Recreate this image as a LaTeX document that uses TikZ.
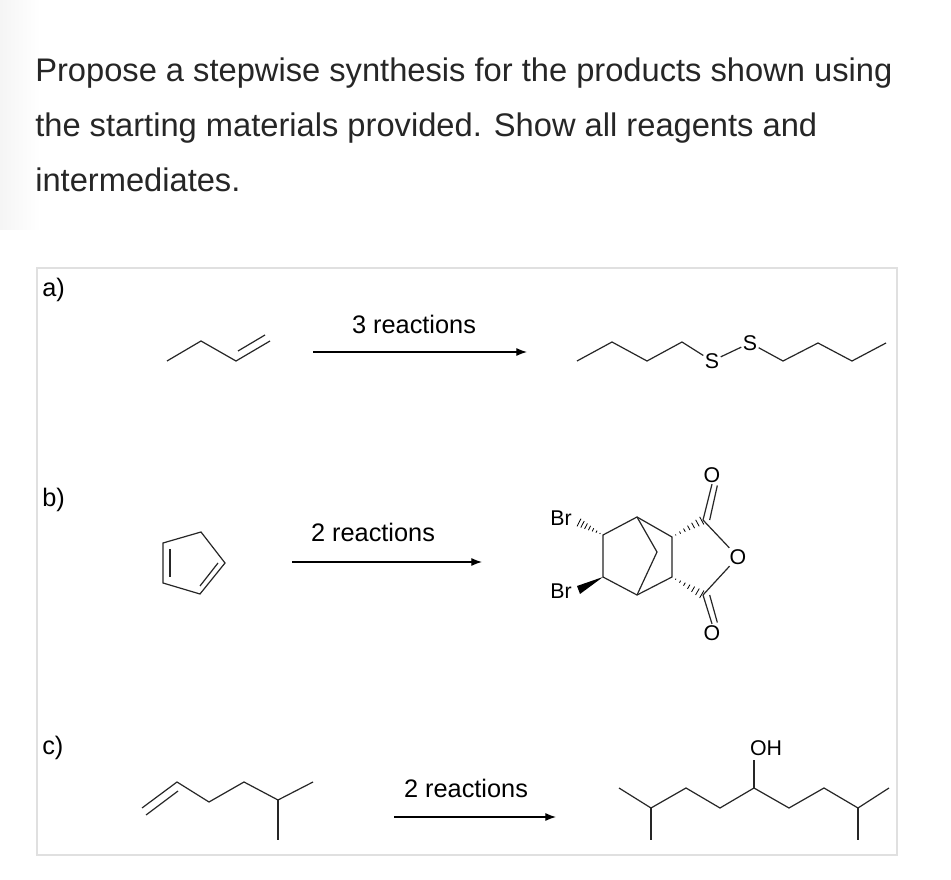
\documentclass[tikz,border=0pt]{standalone}
\usepackage{fontspec}
\setmainfont{Liberation Sans}
\usetikzlibrary{arrows.meta,calc}
\begin{document}
\begin{tikzpicture}[x=0.75pt,y=-0.75pt,
  bond/.style={line width=0.9pt,black!85},
  atom/.style={font=\fontsize{16}{18}\selectfont,inner sep=1pt},
  rlab/.style={font=\fontsize{19}{22}\selectfont,inner sep=0pt},
  rarrow/.style={line width=0.9pt,-{Latex[length=8pt,width=6pt]}},
  qtext/.style={font=\fontsize{24.5}{28}\selectfont,anchor=base west,inner sep=0pt,text=black!85}]
\useasboundingbox (0,0) rectangle (951,880);
\fill[white] (0,0) rectangle (951,880);
\shade[left color=black!4,right color=white] (0,0) rectangle (40,230);
\node[qtext] (q1) at (35,82) {Propose a stepwise synthesis for the products shown using};
\node[qtext] (q2) at (35,137) {the starting materials provided. Show all reagents and};
\node[qtext] (q3) at (35,192) {intermediates.};
\draw[black!12,line width=0.8pt] (37,268) rectangle (897,855);
\node[rlab,anchor=west] (la) at (42,290) {a)};
\node[rlab,anchor=west] (lb) at (42,500) {b)};
\node[rlab,anchor=west] (lc) at (42,748) {c)};
% a start
\draw[bond] (167,361)--(201,341)--(236,361)--(270,341);
\draw[bond] (238,351)--(265,335);
% a arrow
\coordinate (a1) at (313,352); \coordinate (a2) at (527,352);
\draw[rarrow] (a1)--(a2);
\node[rlab] (ta) at (414,324) {3 reactions};
% a product
\node[atom] (S1) at (712,361) {S};
\node[atom] (S2) at (750,343) {S};
\draw[bond] (577,361)--(612,342)--(647,361)--(682,342)--(S1);
\draw[bond] (S1)--(S2);
\draw[bond] (S2)--(783,361)--(818,343)--(852,361)--(886,343);
% b start
\draw[bond] (163,543)--(201,532)--(225,563)--(200,594)--(163,583)--cycle;
\draw[bond] (170,549)--(170,577);
\draw[bond] (200,586)--(218,563);
% b arrow
\coordinate (b1) at (292,562); \coordinate (b2) at (482,562);
\draw[rarrow] (b1)--(b2);
\node[rlab] (tb) at (373,532) {2 reactions};
% b product
\coordinate (C1) at (603,535); \coordinate (C2) at (603,577);
\coordinate (C3) at (637,517); \coordinate (C4) at (637,595);
\coordinate (C5) at (672,537); \coordinate (C6) at (672,577);
\coordinate (C9) at (657,552);
\coordinate (C7) at (703,520); \coordinate (C8) at (703,595);
\coordinate (HB) at (578,522);
\node[atom] (Br1) at (561,518) {Br};
\node[atom] (Br2) at (561,591) {Br};
\node[atom] (O1) at (712,475) {O};
\node[atom] (O2) at (712,633) {O};
\node[atom] (O3) at (738,557) {O};
\draw[bond] (C1)--(C3)--(C5)--(C6)--(C4)--(C2)--cycle;
\draw[bond] (C3)--(C9)--(C4);
\foreach \t in {0.12,0.26,...,0.96}{
  \draw[line width=0.6pt] ($(C1)!\t!(HB)+(-0.46*4.5*\t,0.89*4.5*\t)$)--($(C1)!\t!(HB)-(-0.46*4.5*\t,0.89*4.5*\t)$);
  \draw[line width=0.6pt] ($(C5)!\t!(C7)+(0.48*4.5*\t,0.88*4.5*\t)$)--($(C5)!\t!(C7)-(0.48*4.5*\t,0.88*4.5*\t)$);
  \draw[line width=0.6pt] ($(C6)!\t!(C8)+(-0.5*4.5*\t,0.86*4.5*\t)$)--($(C6)!\t!(C8)-(-0.5*4.5*\t,0.86*4.5*\t)$);
}
\fill[black] (C2)--(577,586)--(580,594)--cycle;
\draw[bond] (C7)--(O3)--(C8);
\draw[bond] (C7)--(O1.south);
\draw[bond] ([xshift=5pt]C7)--([xshift=4pt,yshift=-1pt]O1.south);
\draw[bond] (C8)--(O2.north);
\draw[bond] ([xshift=5pt]C8)--([xshift=4pt,yshift=1pt]O2.north);
% c start
\draw[bond] (142,808)--(177,782)--(209,802)--(244,782)--(278,800)--(313,782);
\draw[bond] (278,800)--(278,840);
\draw[bond] (146,815)--(178,791);
% c arrow
\coordinate (c1) at (394,817); \coordinate (c2) at (556,817);
\draw[rarrow] (c1)--(c2);
\node[rlab] (tc) at (466,788) {2 reactions};
% c product
\node[atom] (OH) at (766,748) {OH};
\draw[bond] (619,788)--(651,808)--(686,788)--(720,808)--(754,788)--(789,808)--(824,788)--(858,808)--(889,788);
\draw[bond] (651,808)--(651,840);
\draw[bond] (858,808)--(858,840);
\draw[bond] (754,788)--(754,760);
\end{tikzpicture}
\end{document}
